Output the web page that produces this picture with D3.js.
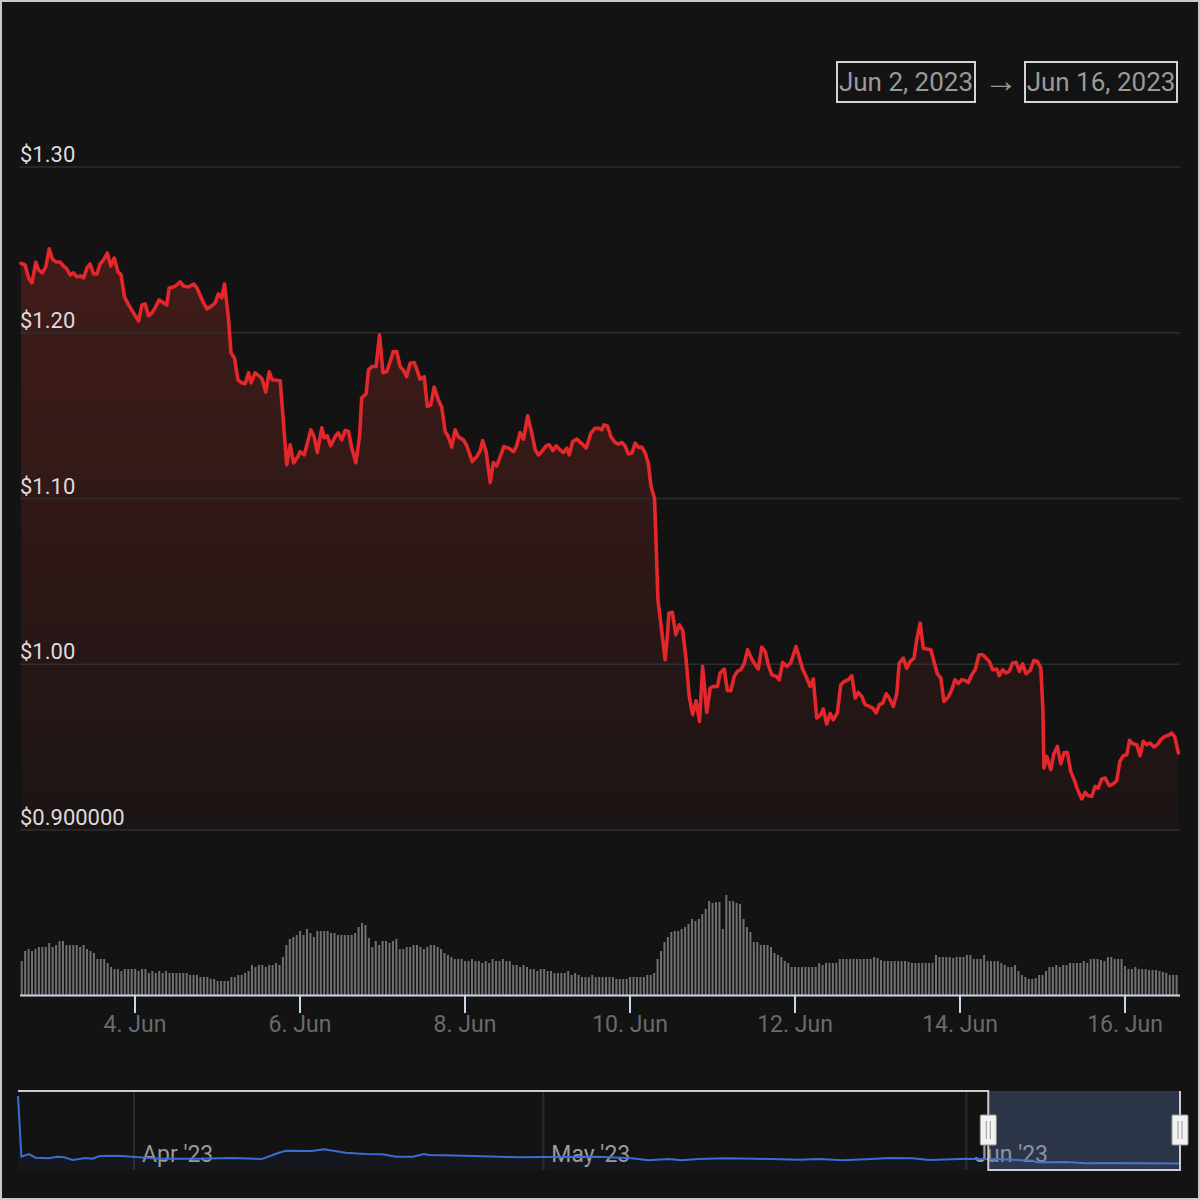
<!DOCTYPE html>
<html><head><meta charset="utf-8">
<script src="https://cdn.jsdelivr.net/npm/d3@7"></script>
<style>html,body{margin:0;padding:0;background:#131313;}svg{display:block;font-family:Roboto,"Noto Sans",sans-serif;}</style>
</head><body><svg id="c" width="1200" height="1200"></svg>
<script>
// ---- DATA ----
// hours since 2023-06-02 00:00 UTC
const priceHours = [14.8,16.0,17.0,18.0,19.1,19.9,21.0,22.0,23.0,23.9,24.9,26.2,27.1,28.1,29.1,30.1,31.0,32.0,33.0,34.0,34.9,35.9,36.9,37.8,38.8,39.9,40.9,41.9,43.0,43.9,44.9,46.1,47.5,49.0,50.0,50.9,51.9,52.9,53.8,55.0,55.9,57.2,57.9,59.1,60.1,61.1,62.1,63.5,65.0,66.0,66.9,67.9,68.9,70.3,71.3,72.2,73.2,74.0,75.1,75.9,76.9,77.9,79.0,80.0,81.0,81.7,82.9,84.4,85.0,86.0,87.0,87.9,90.2,92.1,93.1,94.1,95.3,
96.0,97.2,99.1,100.1,101.0,102.3,103.0,103.9,104.9,106.2,107.1,108.1,109.1,110.1,111.0,112.2,113.3,113.9,115.2,115.9,116.9,118.1,119.1,120.1,121.2,122.2,123.1,124.1,125.1,126.1,127.0,128.0,129.2,130.0,130.9,132.1,133.0,134.0,135.0,136.2,137.2,138.2,139.1,140.1,141.1,142.1,143.5,144.5,146.1,147.4,148.4,149.1,150.1,151.3,152.2,153.2,154.2,155.3,156.6,158.1,159.0,160.0,161.0,162.2,163.4,164.4,165.3,166.3,167.6,168.5,169.5,170.5,171.6,172.6,173.6,174.3,175.3,176.5,178.0,179.2,180.6,181.8,182.8,183.8,184.4,185.4,186.4,187.6,188.6,189.6,190.5,191.5,192.5,193.5,194.4,195.4,196.4,197.3,198.1,199.1,
199.6,200.1,200.7,201.5,202.2,202.9,203.3,204.3,205.3,206.3,207.3,208.3,209.2,210.2,211.2,212.2,213.1,214.3,215.3,216.2,217.4,218.2,219.4,220.3,221.3,222.3,223.2,224.2,225.2,226.2,227.4,228.4,229.3,230.3,231.3,232.2,233.2,234.5,235.4,236.4,237.6,238.7,240.3,241.2,242.2,243.4,244.4,245.3,246.3,247.3,248.2,249.2,250.2,251.1,252.3,253.3,254.3,255.5,256.5,257.5,258.4,259.4,260.4,261.6,262.6,263.6,264.5,265.5,266.5,267.4,268.6,269.6,270.3,271.5,272.5,273.5,274.6,275.4,276.4,277.3,278.3,279.5,280.4,281.4,282.4,283.3,284.6,285.6,286.5,287.5,288.5,289.5,290.4,291.4,292.4,293.5,294.6,295.6,296.5,297.5,298.7,299.4,300.4,301.4,302.3,303.3,304.3,305.3,306.2,307.2,308.4,309.5,310.5,311.5,312.1,312.4,313.2,314.4,315.3,316.3,317.3,318.3,319.2,320.2,321.2,322.1,323.4,324.4,325.3,326.3,327.3,328.2,329.2,330.2,331.4,332.6,333.6,334.5,335.5,336.5,337.3,338.2,339.4,340.4,341.3,342.3,343.3,344.4,345.4,346.4,347.6,348.9,349.6,350.5,351.5];
const prices = [1.2419,1.2409,1.2331,1.2301,1.2427,1.2379,1.2361,1.2397,1.2506,1.2445,1.2427,1.2427,1.2403,1.2385,1.2349,1.2361,1.2337,1.2343,1.2331,1.2391,1.2415,1.2355,1.2355,1.2415,1.2439,1.2481,1.2403,1.2451,1.2367,1.2349,1.2216,1.2168,1.2120,1.2071,1.2168,1.2174,1.2102,1.2120,1.2150,1.2198,1.2186,1.2168,1.2270,1.2276,1.2288,1.2307,1.2282,1.2276,1.2294,1.2270,1.2228,1.2180,1.2144,1.2162,1.2180,1.2234,1.2210,1.2294,1.2095,1.1878,1.1848,1.1716,1.1698,1.1692,1.1758,1.1698,1.1758,1.1734,1.1716,1.1643,1.1764,1.1716,1.1710,1.1203,1.1324,1.1215,1.1251,
1.1283,1.1263,1.1414,1.1372,1.1277,1.1426,1.1366,1.1378,1.1318,1.1374,1.1396,1.1354,1.1410,1.1404,1.1306,1.1215,1.1374,1.1607,1.1631,1.1776,1.1796,1.1796,1.1987,1.1758,1.1766,1.1826,1.1886,1.1886,1.1796,1.1772,1.1735,1.1816,1.1820,1.1776,1.1720,1.1735,1.1555,1.1565,1.1672,1.1595,1.1551,1.1404,1.1374,1.1310,1.1414,1.1370,1.1354,1.1318,1.1223,1.1253,1.1289,1.1350,1.1283,1.1096,1.1217,1.1197,1.1253,1.1313,1.1304,1.1283,1.1318,1.1398,1.1358,1.1499,1.1394,1.1294,1.1263,1.1283,1.1318,1.1324,1.1289,1.1318,1.1294,1.1277,1.1304,1.1263,1.1344,1.1358,1.1330,1.1304,1.1394,1.1424,1.1424,1.1414,1.1444,1.1438,1.1374,1.1338,1.1328,1.1338,1.1318,1.1269,1.1274,1.1334,1.1309,1.1310,1.1274,1.1213,1.1072,1.1002,
1.0710,1.0389,1.0288,1.0148,1.0027,1.0188,1.0309,1.0313,1.0178,1.0238,1.0204,1.0027,0.9806,0.9696,0.9780,0.9655,0.9987,0.9709,0.9856,0.9866,0.9866,0.9947,0.9971,0.9842,0.9840,0.9927,0.9957,0.9967,1.0003,1.0088,1.0031,0.9997,0.9971,1.0104,1.0077,0.9997,0.9937,0.9927,0.9907,1.0011,0.9987,1.0007,1.0107,1.0043,0.9971,0.9917,0.9866,0.9911,0.9676,0.9690,0.9730,0.9639,0.9702,0.9665,0.9706,0.9876,0.9896,0.9907,0.9931,0.9796,0.9830,0.9806,0.9756,0.9746,0.9736,0.9706,0.9756,0.9766,0.9822,0.9796,0.9746,0.9826,1.0007,1.0037,0.9977,1.0017,1.0037,1.0148,1.0248,1.0098,1.0092,1.0088,1.0017,0.9943,0.9917,0.9776,0.9802,0.9846,0.9907,0.9883,0.9907,0.9902,0.9890,0.9937,0.9967,1.0057,1.0057,1.0037,1.0017,0.9967,0.9971,0.9931,0.9967,0.9947,0.9957,1.0007,1.0011,0.9957,1.0003,0.9943,0.9963,1.0023,1.0017,0.9977,0.9726,0.9374,0.9444,0.9364,0.9460,0.9504,0.9400,0.9468,0.9468,0.9354,0.9304,0.9248,0.9187,0.9227,0.9207,0.9203,0.9263,0.9253,0.9308,0.9314,0.9267,0.9279,0.9299,0.9414,0.9448,0.9454,0.9541,0.9521,0.9515,0.9448,0.9535,0.9515,0.9525,0.9501,0.9515,0.9545,0.9565,0.9575,0.9585,0.9561,0.9465];

// hourly volume (USD millions), first bar at hour 15 of Jun 2
const volumeStartHour = 15;
const volumes = [3.4,4.4,4.6,4.4,4.6,4.8,4.8,4.8,5.2,4.8,
5.0,5.4,5.4,5.0,5.0,5.0,5.0,4.8,5.0,4.6,
4.4,4.2,3.6,3.6,3.6,3.2,2.8,2.6,2.6,2.4,
2.6,2.6,2.6,2.6,2.4,2.6,2.6,2.2,2.4,2.2,
2.4,2.2,2.4,2.2,2.2,2.2,2.2,2.2,2.2,2.0,
2.0,2.0,1.8,1.8,1.8,1.6,1.6,1.4,1.4,1.4,
1.4,1.8,1.8,2.0,2.0,2.2,2.4,3.0,2.8,3.0,
3.0,2.8,3.0,3.0,3.2,3.0,3.8,5.0,5.6,5.8,
6.0,6.4,6.0,6.6,6.2,5.8,6.4,6.4,6.4,6.4,
6.2,6.2,6.0,6.0,6.0,6.0,6.0,6.2,6.8,7.2,
7.0,5.7,4.8,5.4,5.0,5.4,5.4,5.2,5.4,5.6,
4.6,4.6,4.8,4.8,5.0,5.0,4.8,4.6,4.8,5.0,
5.0,4.8,4.6,4.2,4.0,3.8,3.6,3.6,3.6,3.4,
3.4,3.6,3.4,3.4,3.2,3.4,3.2,3.6,3.4,3.4,
3.6,3.4,3.4,3.0,3.0,2.8,3.0,2.8,2.6,2.6,
2.4,2.6,2.6,2.4,2.4,2.2,2.2,2.2,2.2,2.4,
2.0,2.2,2.0,1.8,1.8,1.8,2.0,1.8,1.8,1.8,
1.8,1.8,1.8,1.6,1.6,1.6,1.6,1.8,1.8,1.8,
1.8,1.8,2.0,2.0,2.2,3.6,4.4,5.3,5.8,6.3,
6.4,6.4,6.6,6.8,7.1,7.6,7.4,7.6,8.1,8.6,
9.4,9.2,9.3,9.3,6.6,10.0,9.4,9.4,9.2,9.1,
7.6,6.8,6.3,5.3,5.3,5.0,5.0,5.0,4.8,4.2,
4.0,3.8,3.4,3.2,2.8,2.8,2.8,2.8,2.8,2.8,
2.8,2.8,3.2,3.0,3.2,3.2,3.2,3.2,3.6,3.6,
3.6,3.6,3.6,3.6,3.6,3.6,3.6,3.6,3.8,3.7,
3.5,3.4,3.4,3.4,3.4,3.4,3.4,3.4,3.3,3.2,
3.2,3.2,3.2,3.2,3.2,3.2,4.0,3.8,3.8,3.8,
3.8,3.7,3.8,3.8,3.8,4.0,4.0,3.6,3.6,3.6,
4.0,3.4,3.4,3.4,3.4,3.2,3.0,2.8,2.8,3.0,
2.4,2.0,1.8,1.6,1.6,1.7,2.0,2.0,2.4,2.8,
2.8,3.0,2.8,3.0,3.0,3.2,3.2,3.2,3.2,3.4,
3.2,3.6,3.6,3.6,3.5,3.4,3.8,3.8,3.6,3.6,
3.6,2.9,2.6,2.6,2.8,2.6,2.6,2.6,2.5,2.5,
2.5,2.4,2.3,2.2,2.0,2.0,2.0];

const yTicks = [0.9, 1.0, 1.1, 1.2, 1.3];
const yTickLabels = ["$0.900000", "$1.00", "$1.10", "$1.20", "$1.30"];
const xTickDates = ["2023-06-04","2023-06-06","2023-06-08","2023-06-10","2023-06-12","2023-06-14","2023-06-16"];
const rangeLabels = ["Jun 2, 2023", "Jun 16, 2023"];

// navigator (full history)
const navDates = ["2023-03-23T12","2023-03-23T18","2023-03-24T07","2023-03-24T19","2023-03-25T18","2023-03-26T09","2023-03-26T21","2023-03-27T12","2023-03-28T11","2023-03-28T23","2023-03-29T10","2023-03-30T04","2023-03-31T03","2023-04-01T09","2023-04-02T20","2023-04-05T18","2023-04-08T04","2023-04-10T09","2023-04-11T15","2023-04-12T03","2023-04-14T01","2023-04-14T22","2023-04-16T12","2023-04-17T23","2023-04-19T05","2023-04-20T05","2023-04-21T10","2023-04-22T06","2023-04-22T15","2023-04-23T20","2023-04-25T19","2023-04-27T18","2023-04-29T06","2023-05-01T00","2023-05-05T01","2023-05-07T11","2023-05-08T17","2023-05-10T04","2023-05-11T03","2023-05-12T09","2023-05-14T08","2023-05-16T13","2023-05-19T18","2023-05-21T05","2023-05-22T22","2023-05-24T15","2023-05-26T08","2023-05-28T01","2023-05-29T07","2023-06-01T00","2023-06-03T11","2023-06-05T21","2023-06-06T03","2023-06-08T07","2023-06-09T19","2023-06-11T00","2023-06-16T15"];
const navPrices = [6.17,1.43,1.64,1.35,1.30,1.43,1.38,1.17,1.33,1.27,1.46,1.51,1.48,1.38,1.27,1.27,1.33,1.25,1.74,1.90,1.88,2.01,1.74,1.64,1.62,1.43,1.43,1.64,1.56,1.54,1.48,1.43,1.38,1.41,1.43,1.30,1.15,1.25,1.15,1.25,1.30,1.27,1.20,1.25,1.15,1.23,1.33,1.30,1.17,1.27,1.23,1.12,0.99,1.02,0.91,0.94,0.90];
const navTickDates = ["2023-04-01T00","2023-05-01T00","2023-06-01T00"];
const navTickLabels = ["Apr '23", "May '23", "Jun '23"];

// ---- DRAW ----
const base = Date.UTC(2023, 5, 2);
const hourToDate = h => new Date(base + h * 3600e3);
const parseDay = d3.utcParse("%Y-%m-%d");
const parseHour = d3.utcParse("%Y-%m-%dT%H");

const svg = d3.select("#c");
svg.append("rect").attr("width",1200).attr("height",1200).attr("fill","#131313");

const L = 20, R = 1180;
const x = d3.scaleUtc().domain([hourToDate(14.5), hourToDate(351.7)]).range([20, 1179]);
const y = d3.scaleLinear().domain([0.9, 1.3]).range([830, 167]);
const vy = d3.scaleLinear().domain([0, 10]).range([995, 895]);

const priceData = priceHours.map((h, i) => ({t: hourToDate(h), v: prices[i]}));

// area gradient
const defs = svg.append("defs");
const grad = defs.append("linearGradient").attr("id","ag").attr("gradientUnits","userSpaceOnUse")
  .attr("x1",0).attr("x2",0).attr("y1",y(1.25)).attr("y2",830);
grad.append("stop").attr("offset","0%").attr("stop-color","#e0392f").attr("stop-opacity",0.23);
grad.append("stop").attr("offset","100%").attr("stop-color","#e0392f").attr("stop-opacity",0.04);

svg.append("path").datum(priceData)
  .attr("d", d3.area().x(d => x(d.t)).y0(830).y1(d => y(d.v)))
  .attr("fill", "url(#ag)");

// gridlines + labels
yTicks.forEach((t, i) => {
  svg.append("line").attr("x1", L).attr("x2", R).attr("y1", y(t)).attr("y2", y(t))
    .attr("stroke", "#2e2e2e").attr("stroke-width", 1.5);
  svg.append("text").attr("x", L).attr("y", y(t) - 5).text(yTickLabels[i])
    .attr("fill", "#dcdcdc").attr("font-size", 22);
});

svg.append("path").datum(priceData)
  .attr("d", d3.line().x(d => x(d.t)).y(d => y(d.v)))
  .attr("fill", "none").attr("stroke", "#e3272b").attr("stroke-width", 3.6)
  .attr("stroke-linejoin", "round").attr("stroke-linecap","round");

// volume bars
svg.append("g").selectAll("rect").data(volumes).join("rect")
  .attr("x", (v, i) => x(hourToDate(volumeStartHour + i)) - 1)
  .attr("width", 2)
  .attr("y", v => vy(v))
  .attr("height", v => vy(0) - vy(v))
  .attr("fill", "#707070");

// x axis
svg.append("line").attr("x1", L).attr("x2", R).attr("y1", 995.5).attr("y2", 995.5)
  .attr("stroke", "#ccd6eb").attr("stroke-width", 2);
const fmt = d3.utcFormat("%-d. %b");
xTickDates.forEach(ds => {
  const d = parseDay(ds);
  const xx = Math.round(x(d));
  svg.append("line").attr("x1", xx).attr("x2", xx).attr("y1", 995).attr("y2", 1013)
    .attr("stroke", "#ccd6eb").attr("stroke-width", 2);
  svg.append("text").attr("x", xx).attr("y", 1032).attr("text-anchor","middle")
    .attr("fill", "#6a6a6a").attr("font-size", 23).text(fmt(d));
});

// range selector boxes
const boxes = [{x: 837, w: 138}, {x: 1025, w: 152}];
rangeLabels.forEach((lab, i) => {
  const b = boxes[i];
  svg.append("rect").attr("x", b.x).attr("y", 62).attr("width", b.w).attr("height", 40)
    .attr("fill", "none").attr("stroke", "#d4d4d4").attr("stroke-width", 2);
  svg.append("text").attr("x", b.x + b.w / 2).attr("y", 91).attr("text-anchor","middle")
    .attr("fill", "#9a9a9a").attr("font-size", 26).text(lab);
});
svg.append("text").attr("x", 1001).attr("y", 92).attr("text-anchor","middle")
  .attr("fill", "#9a9a9a").attr("font-size", 34).text("\u2192");

// navigator
const NT = 1091, NB = 1170;
const nx = d3.scaleUtc().domain([parseHour("2023-03-23T12"), hourToDate(351.7)]).range([18, 1180]);
const ny = d3.scaleLinear().domain([0.39, d3.max(navPrices)]).range([NB, 1096]);
const navData = navDates.map((d, i) => ({t: parseHour(d), v: navPrices[i]}));

navTickDates.forEach((ds, i) => {
  const xx = nx(parseHour(ds));
  svg.append("line").attr("x1", xx).attr("x2", xx).attr("y1", NT).attr("y2", NB)
    .attr("stroke", "#2a2a2a").attr("stroke-width", 2);
});
svg.append("path").datum(navData)
  .attr("d", d3.area().x(d => nx(d.t)).y0(NB).y1(d => ny(d.v)))
  .attr("fill", "#3b6dd0").attr("fill-opacity", 0.06);
navTickDates.forEach((ds, i) => {
  const xx = nx(parseHour(ds));
  svg.append("text").attr("x", xx + 8).attr("y", 1162).attr("fill", "#9a9a9a")
    .attr("font-size", 23).text(navTickLabels[i]);
});
svg.append("path").datum(navData)
  .attr("d", d3.line().x(d => nx(d.t)).y(d => ny(d.v)))
  .attr("fill", "none").attr("stroke", "#3b6dd0").attr("stroke-width", 2);

const sx = nx(x.domain()[0]), ex = nx(x.domain()[1]);
svg.append("rect").attr("x", sx).attr("y", NT).attr("width", ex - sx).attr("height", NB - NT)
  .attr("fill", "rgba(102,133,194,0.3)");
svg.append("path")
  .attr("d", `M18,${NT}H${sx}V${NB}H${ex}V${NT}H1180`)
  .attr("fill", "none").attr("stroke", "#cccccc").attr("stroke-width", 2);
[sx, ex].forEach(hx => {
  const g = svg.append("g");
  g.append("rect").attr("x", hx - 8).attr("y", 1115).attr("width", 16).attr("height", 30)
    .attr("fill", "#f2f2f2").attr("stroke", "#999").attr("stroke-width", 1).attr("rx", 1);
  [-2, 2].forEach(o => g.append("line").attr("x1", hx + o).attr("x2", hx + o)
    .attr("y1", 1121).attr("y2", 1139).attr("stroke", "#999").attr("stroke-width", 1));
});

// outer frame
svg.append("rect").attr("x", 1).attr("y", 1).attr("width", 1198).attr("height", 1198)
  .attr("fill", "none").attr("stroke", "#c8c8c8").attr("stroke-width", 2);
</script></body></html>
